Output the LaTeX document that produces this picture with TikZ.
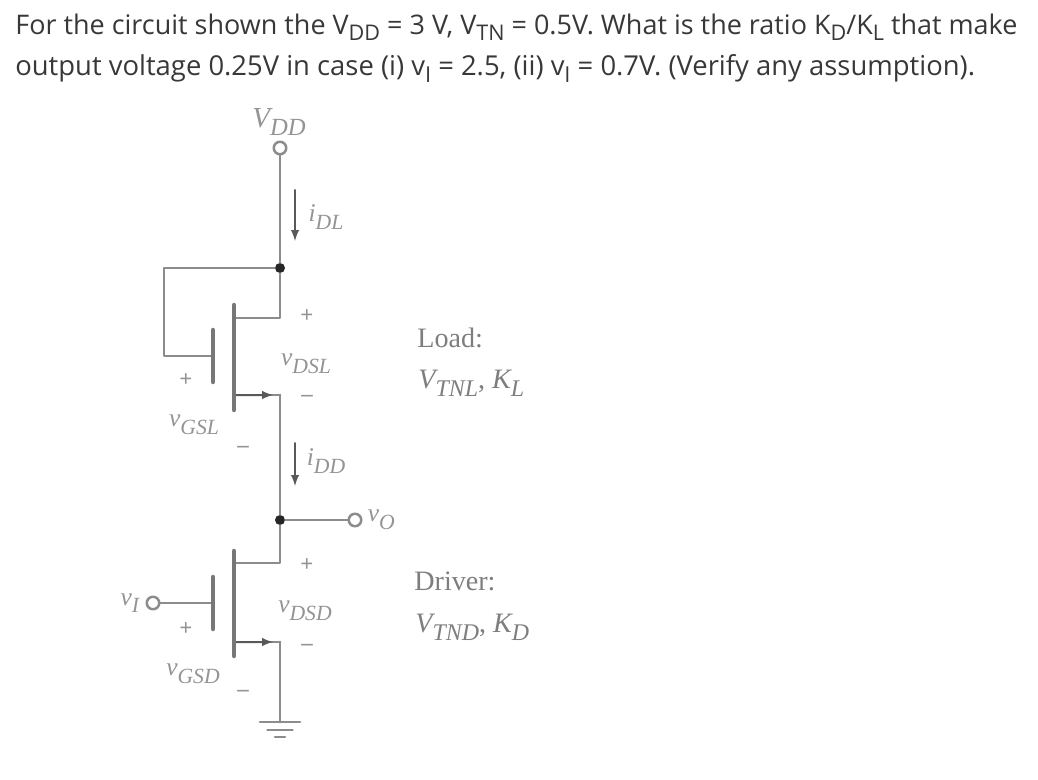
\documentclass[tikz,border=0pt]{standalone}
\usepackage{fontspec}
\setmainfont{Open Sans}
\newfontfamily\labelfont{Liberation Serif}
\usetikzlibrary{arrows, positioning, calc}
\definecolor{wire_gray}{gray}{.55}
\definecolor{label_gray}{gray}{.58}
\definecolor{text_dark}{gray}{.22}
\newcommand{\sublab}[2]{{\itshape #1\raisebox{-.3em}{\scalebox{.85}{#2}}}}
\newcommand{\lowtxt}[1]{\raisebox{-.22em}{\scalebox{.8}{#1}}}
\tikzset{
	wire/.style={draw=wire_gray,line width=.055cm},
	thinwire/.style={draw=black!65,line width=.04cm},
	heavy/.style={draw=wire_gray!85!black,line width=.09cm},
	term/.style={circle,draw=wire_gray,fill=white,line width=.05cm,inner sep=0pt,minimum size=.25cm},
	junct/.style={circle,fill=black!85,inner sep=0pt,minimum size=.2cm},
	lab/.style={inner sep=0pt,text=label_gray,font=\labelfont\fontsize{14.5}{16}\selectfont},
	big/.style={inner sep=0pt,text=label_gray!85!black,anchor=base west,font=\labelfont\fontsize{16}{18}\selectfont},
	sign/.style={inner sep=0pt,text=label_gray,font=\labelfont\bfseries\fontsize{13}{15}\selectfont},
	line1/.style={inner sep=0pt,anchor=base west,text=text_dark},
}

\begin{document}
\begin{tikzpicture}[line join=round,line cap=round]
	\useasboundingbox (0,0) rectangle (20.76,15.58);

	% question
	\node[line1,font=\fontsize{15.35}{17}\selectfont] (qa) at (.3,14.88) {For the circuit shown the V\lowtxt{DD} = 3 V, V\lowtxt{TN} = 0.5V. What is the ratio K\lowtxt{D}/K\lowtxt{L} that make};
	\node[line1,font=\fontsize{15.6}{17}\selectfont] (qb) at (.3,14.06) {output voltage 0.25V in case (i) v\lowtxt{I} = 2.5, (ii) v\lowtxt{I} = 0.7V. (Verify any assumption).};

	% rail nodes
	\coordinate (loadd) at (5.6,9.22);
	\coordinate (loads) at (5.6,7.68);
	\coordinate (drvd) at (5.6,4.32);
	\coordinate (drvs) at (5.6,2.74);
	\coordinate (gnd) at (5.6,1.14);
	\coordinate (loadcd) at (4.68,9.22);
	\coordinate (loadcs) at (4.68,7.68);
	\coordinate (drvcd) at (4.68,4.32);
	\coordinate (drvcs) at (4.68,2.74);
	\coordinate (loadg) at (4.26,8.46);
	\coordinate (drvg) at (4.26,3.52);
	\coordinate (fbtop) at (3.28,10.22);
	\coordinate (fbbot) at (3.28,8.46);
	\node[term] (vdd) at (5.6,12.62) {};
	\node[junct] (top) at (5.6,10.22) {};
	\node[junct] (mid) at (5.6,5.18) {};
	\node[term] (vo) at (7.1,5.18) {};
	\node[term] (vi) at (3.06,3.52) {};

	% wires
	\draw[wire] (vdd) -- (top) -- (loadd) -- (loadcd);
	\draw[wire] (top) -- (fbtop) -- (fbbot) -- (loadg);
	\draw[wire] (loads) -- (mid) -- (drvd) -- (drvcd);
	\draw[wire] (mid) -- (vo);
	\draw[wire] (vi) -- (drvg);
	\draw[wire] (drvs) -- (gnd);
	\foreach\s/\e in {loadcs/loads, drvcs/drvs}
		\draw[wire] (\s) -- (\e);
	\foreach\s/\e in {loadcs/loads, drvcs/drvs}
		\draw[thinwire,-latex] (\s) -- ($(\s)!.85!(\e)$);

	% plates
	\foreach\x/\a/\b in {4.68/9.48/7.38, 4.26/8.98/7.94, 4.68/4.56/2.46, 4.26/4.04/3.0}
		\draw[heavy] (\x,\a) -- (\x,\b);

	% ground
	\foreach\w/\y in {.4/1.14, .25/.98, .1/.84}
		\draw[wire] (5.6-\w,\y) -- (5.6+\w,\y);

	% current arrows
	\coordinate (ida) at (5.9,11.78);
	\coordinate (idb) at (5.9,10.76);
	\coordinate (idc) at (5.9,6.72);
	\coordinate (idd) at (5.9,5.86);
	\draw[thinwire,-latex] (ida) -- (idb);
	\draw[thinwire,-latex] (idc) -- (idd);

	% labels
	\node[lab,font=\labelfont\fontsize{16.5}{18}\selectfont] (lvdd) at (5.58,13.14) {\sublab{V}{DD}};
	\node[lab] (lidl) at (6.52,11.24) {\sublab{i}{DL}};
	\node[lab] (lidd) at (6.52,6.36) {\sublab{i}{DD}};
	\node[lab] (lvdsl) at (6.12,8.3) {\sublab{v}{DSL}};
	\node[lab] (lvgsl) at (3.88,7.08) {\sublab{v}{GSL}};
	\node[lab] (lvdsd) at (6.1,3.36) {\sublab{v}{DSD}};
	\node[lab] (lvgsd) at (3.86,2.1) {\sublab{v}{GSD}};
	\node[lab,right=.1cm of vo] (lvo) {\sublab{v}{O}};
	\node[lab,left=.12cm of vi] (lvi) {\sublab{v}{I}};

	% signs
	\foreach\n/\x/\y/\t in {sa/6.14/9.26/+, sb/6.14/7.62/\textendash, sc/3.72/7.98/+, sd/4.86/6.6/\textendash, se/6.14/4.28/+, sf/6.14/2.64/\textendash, sg/3.72/3.0/+, sh/4.86/1.72/\textendash}
		\node[sign] (\n) at (\x,\y) {\t};

	% transistor data
	\node[big] (load) at (8.34,8.64) {Load:};
	\node[big] (ldat) at (8.36,7.82) {\sublab{V}{TNL}, \sublab{K}{L}};
	\node[big] (drv) at (8.28,3.78) {Driver:};
	\node[big] (ddat) at (8.3,2.94) {\sublab{V}{TND}, \sublab{K}{D}};
\end{tikzpicture}
\end{document}
